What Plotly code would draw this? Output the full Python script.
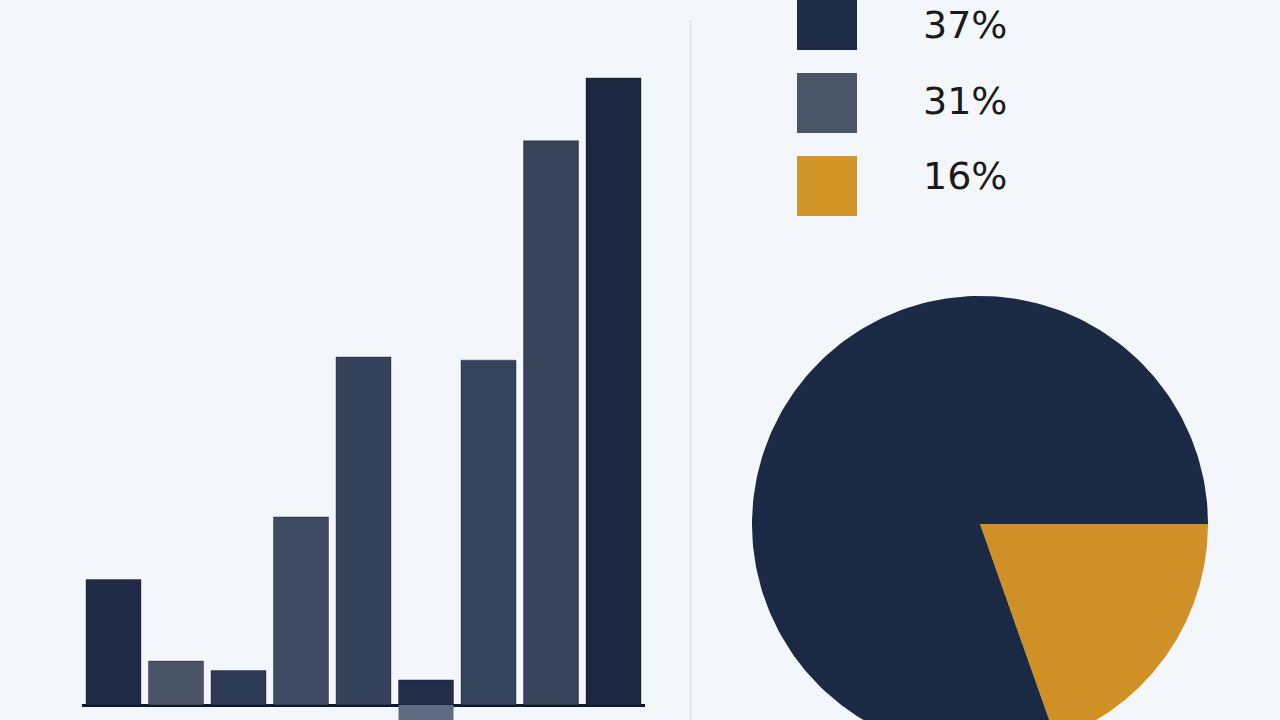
"""Bar chart with a pie and a small legend on the right"""
import numpy as np
import plotly.graph_objects as go

# bar data
bar_idx = list(range(9))
bar_pos = [20, 7, 5.5, 30, 55.5, 4, 55, 90, 100]
bar_neg = [0, 0, 0, 0, 0, -3.5, 0, 0, 0]
bar_colors = ["#1f2b45", "#4a5468", "#2c3a55", "#3e4a61", "#35425b",
              "#222d47", "#36435c", "#374359", "#1c2842"]
neg_color = "#5f6b80"

# pie data (share of the circle, clockwise from 3 o'clock)
pie_shares = [19.6, 80.4]
pie_colors = ["#cf9127", "#1a2944"]

# legend data
legend_labels = ["37%", "31%", "16%"]
legend_colors = ["#1c2a45", "#4a5568", "#d29628"]

W, H = 1280, 720
BG = "#f3f6fa"


def px(x):
    return x / W


def py(y):
    return 1 - y / H


fig = go.Figure()

fig.add_trace(go.Bar(x=bar_idx, y=bar_pos, marker_color=bar_colors,
                     marker_line_color="rgba(10,15,30,0.35)", marker_line_width=1,
                     width=0.88, showlegend=False, hoverinfo="skip"))
fig.add_trace(go.Bar(x=bar_idx, y=bar_neg, marker_color=neg_color,
                     marker_line_width=0, width=0.88,
                     showlegend=False, hoverinfo="skip"))

# pie drawn as filled sectors so it can run past the bottom edge
start = 0.0
for share, col in zip(pie_shares, pie_colors):
    a0 = start
    a1 = start - share / 100 * 2 * np.pi
    t = np.linspace(a0, a1, 200)
    xs = np.concatenate([[0], np.cos(t), [0]])
    ys = np.concatenate([[0], np.sin(t), [0]])
    fig.add_trace(go.Scatter(x=xs, y=ys, mode="lines", fill="toself",
                             fillcolor=col, line=dict(width=0, color=col),
                             xaxis="x2", yaxis="y2", showlegend=False,
                             hoverinfo="skip"))
    start = a1

# pie geometry in pixels
cx, cy, r = 980, 524, 228
x2_left, x2_right = 704, 1280

shapes = [dict(type="line", xref="paper", yref="paper",
               x0=px(690.5), x1=px(690.5), y0=py(20), y1=py(720),
               line=dict(color="#e2e6eb", width=2))]
annotations = []
text_mid = [25, 101, 176]
for i, (lab, col) in enumerate(zip(legend_labels, legend_colors)):
    top = -10 + i * 83
    shapes.append(dict(type="rect", xref="paper", yref="paper",
                       x0=px(797), x1=px(857), y0=py(top + 60), y1=py(top),
                       fillcolor=col, line=dict(width=0)))
    annotations.append(dict(text=lab, xref="paper", yref="paper",
                            x=px(921), y=py(text_mid[i]), xanchor="left",
                            yanchor="middle", showarrow=False,
                            font=dict(family="DejaVu Sans", size=38,
                                      color="#1a1a1a")))

fig.update_layout(
    width=W, height=H,
    margin=dict(l=0, r=0, t=0, b=0),
    paper_bgcolor=BG, plot_bgcolor=BG,
    barmode="relative",
    xaxis=dict(domain=[px(82.25), px(644.75)], range=[-0.5, 8.5],
               visible=False, fixedrange=True),
    yaxis=dict(domain=[0, 1], range=[-15 / 6.27, 705 / 6.27],
               showgrid=False, showticklabels=False, zeroline=True,
               zerolinecolor="#10172a", zerolinewidth=3),
    xaxis2=dict(domain=[px(x2_left), px(x2_right)],
                range=[(x2_left - cx) / r, (x2_right - cx) / r],
                visible=False, anchor="y2"),
    yaxis2=dict(domain=[0, 1], range=[-(H - cy) / r, cy / r],
                visible=False, anchor="x2"),
    shapes=shapes,
    annotations=annotations,
)

fig.write_html("out.html", config={"displayModeBar": False},
               post_script="document.body.style.margin='0';")
